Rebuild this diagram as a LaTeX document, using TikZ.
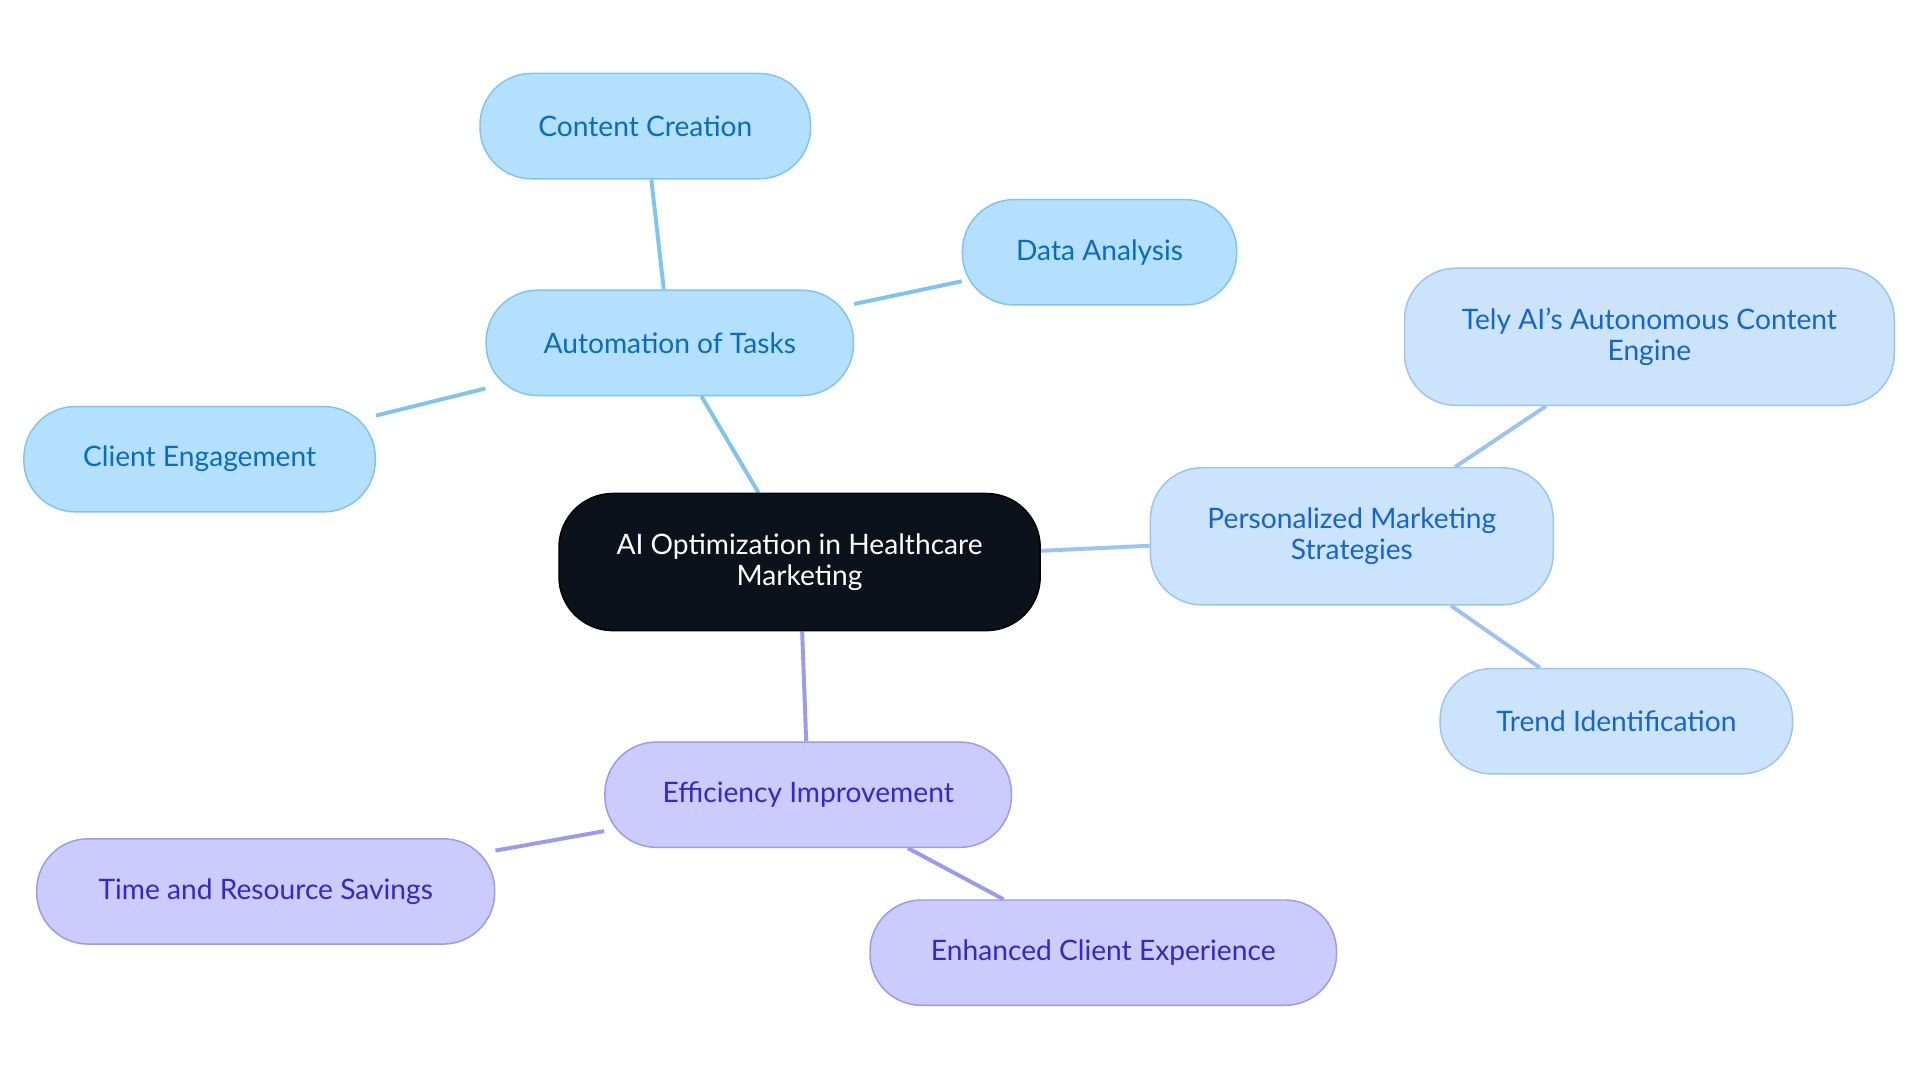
\documentclass[tikz,border=0pt]{standalone}
\usepackage{fontspec}
\setmainfont{Lato}
\usetikzlibrary{backgrounds}
\definecolor{bfill}{HTML}{B3E0FF}\definecolor{bdraw}{HTML}{7DC4F0}\definecolor{btext}{HTML}{0A6BBF}
\definecolor{pfill}{HTML}{CCE3FC}\definecolor{pdraw}{HTML}{99C4F5}\definecolor{ptext}{HTML}{1565D0}
\definecolor{vfill}{HTML}{CBCBFD}\definecolor{vdraw}{HTML}{9A9AEF}\definecolor{vtext}{HTML}{3527C8}
\definecolor{dark}{HTML}{0B121B}
\begin{document}
\begin{tikzpicture}[x=0.5pt,y=-0.5pt,
 box/.style={rounded corners=21pt,minimum height=43pt,align=center,font=\fontsize{11.5}{12.5}\selectfont,line width=0.6pt},
 bl/.style={box,fill=bfill,draw=bdraw,text=btext},
 pl/.style={box,fill=pfill,draw=pdraw,text=ptext},
 vl/.style={box,fill=vfill,draw=vdraw,text=vtext},
 bline/.style={draw=bdraw,line width=1.6pt},
 pline/.style={draw=pdraw,line width=1.6pt},
 vline/.style={draw=vdraw,line width=1.6pt}]
\useasboundingbox (0,0) rectangle (1568,884);
\node[box,fill=dark,draw=black,text=white,minimum width=196.5pt,minimum height=56pt,rounded corners=22pt] (c) at (653,459) {AI Optimization in Healthcare\\Marketing};
\node[bl,minimum width=150pt] (a) at (547,280) {Automation of Tasks};
\node[bl,minimum width=135pt] (cc) at (527,103) {Content Creation};
\node[bl,minimum width=112pt] (da) at (898,206) {Data Analysis};
\node[bl,minimum width=143.5pt] (ce) at (163,375) {Client Engagement};
\node[pl,minimum width=164.5pt,minimum height=56pt] (p) at (1104,438) {Personalized Marketing\\Strategies};
\node[pl,minimum width=200pt,minimum height=56pt] (t) at (1347,275) {Tely AI’s Autonomous Content\\Engine};
\node[pl,minimum width=144pt] (tr) at (1320,589) {Trend Identification};
\node[vl,minimum width=166pt] (e) at (660,649) {Efficiency Improvement};
\node[vl,minimum width=187pt] (ts) at (217,728) {Time and Resource Savings};
\node[vl,minimum width=190.5pt] (ec) at (901,778) {Enhanced Client Experience};
\begin{pgfonlayer}{background}
\draw[bline] (c) -- (a); \draw[bline] (a) -- (cc); \draw[bline] (a) -- (da); \draw[bline] (a) -- (ce);
\draw[pline] (c) -- (p); \draw[pline] (p) -- (t); \draw[pline] (p) -- (tr);
\draw[vline] (c) -- (e); \draw[vline] (e) -- (ts); \draw[vline] (e) -- (ec);
\end{pgfonlayer}
\end{tikzpicture}
\end{document}
